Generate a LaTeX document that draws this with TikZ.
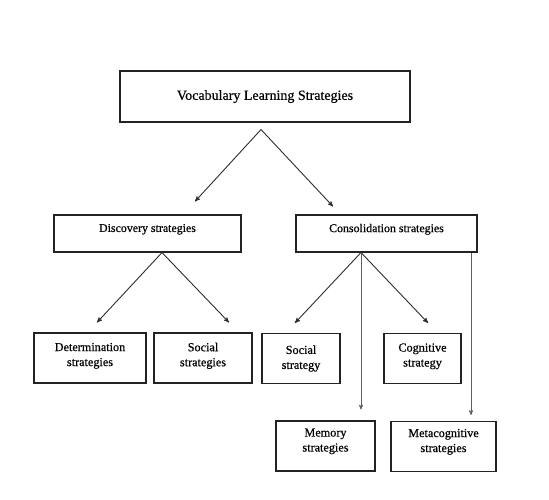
\documentclass[tikz,border=0pt]{standalone}
\usepackage{fontspec}
\setmainfont{Liberation Serif}[FakeBold=0.5]
\usetikzlibrary{arrows,calc}
\definecolor{box_gray}{RGB}{35,35,35}
\definecolor{edge_gray}{RGB}{45,45,45}
\definecolor{line_gray}{RGB}{95,95,95}

\begin{document}
\begin{tikzpicture}[->,semithick,>=stealth',x=1pt,y=-1pt]
    \tikzstyle{box}=[draw=box_gray, rectangle, line width=1.1pt, align=center, inner sep=0pt, text=black, font=\fontsize{12.2}{15}\selectfont]
    \tikzstyle{root}=[style=box, minimum width=290pt, minimum height=51pt, font=\fontsize{14}{17}\selectfont]
    \tikzstyle{mid}=[style=box, minimum width=184pt, minimum height=37pt, font=\fontsize{11.9}{15}\selectfont]
    \tikzstyle{leaf}=[style=box, minimum height=50pt]
    \tikzstyle{link}=[edge_gray, line width=0.9pt]
    \tikzstyle{drop}=[line_gray, line width=0.7pt]

    \useasboundingbox (0,0) rectangle (549,500);

    \node[root] (vls)  at (265,96.5)  {Vocabulary Learning Strategies};
    \node[mid, minimum width=187pt] (disc) at (147.5,233.5) {Discovery strategies\\[-4pt]};
    \node[mid, minimum width=181pt] (cons) at (386.5,233.5) {Consolidation strategies\\[-4pt]};
    \node[leaf, minimum width=112pt] (det)  at (90,358)    {Determination\\strategies\\[-8pt]};
    \node[leaf, minimum width=98pt]  (socs) at (203,358)   {Social\\strategies\\[-8pt]};
    \node[leaf, minimum width=78pt]  (soc)  at (301,358.5) {Social\\strategy};
    \node[leaf, minimum width=77pt]  (cog)  at (422.5,358.5) {Cognitive\\strategy\\[-8pt]};
    \node[leaf, minimum width=99pt]  (mem)  at (325.5,446)  {Memory\\strategies\\[-3pt]};
    \node[leaf, minimum width=105pt] (meta) at (443.5,446.5) {Metacognitive\\strategies\\[-3pt]};

    \path
     ($(vls.south)+(-4,7)$)  edge[link] ($(disc.north)+(47.5,-13)$)
     ($(vls.south)+(-4,7)$)  edge[link] ($(cons.north)+(-53.5,-8)$)
     ($(disc.south)+(14.5,0)$) edge[link] ($(det.north)+(7,-10)$)
     ($(disc.south)+(14.5,0)$) edge[link] ($(socs.north)+(26,-10)$)
     ($(cons.south)+(-25.5,0)$) edge[link] ($(soc.north)+(-6,-10)$)
     ($(cons.south)+(-25.5,0)$) edge[link] ($(cog.north)+(5.5,-10)$)
     ($(cons.south)+(-25.5,0)$) edge[drop] ($(mem.north)+(35.5,-11)$)
     ($(cons.south)+(84.5,0)$)  edge[drop] ($(meta.north)+(27.5,-6)$)
     ;
  \end{tikzpicture}
\end{document}
